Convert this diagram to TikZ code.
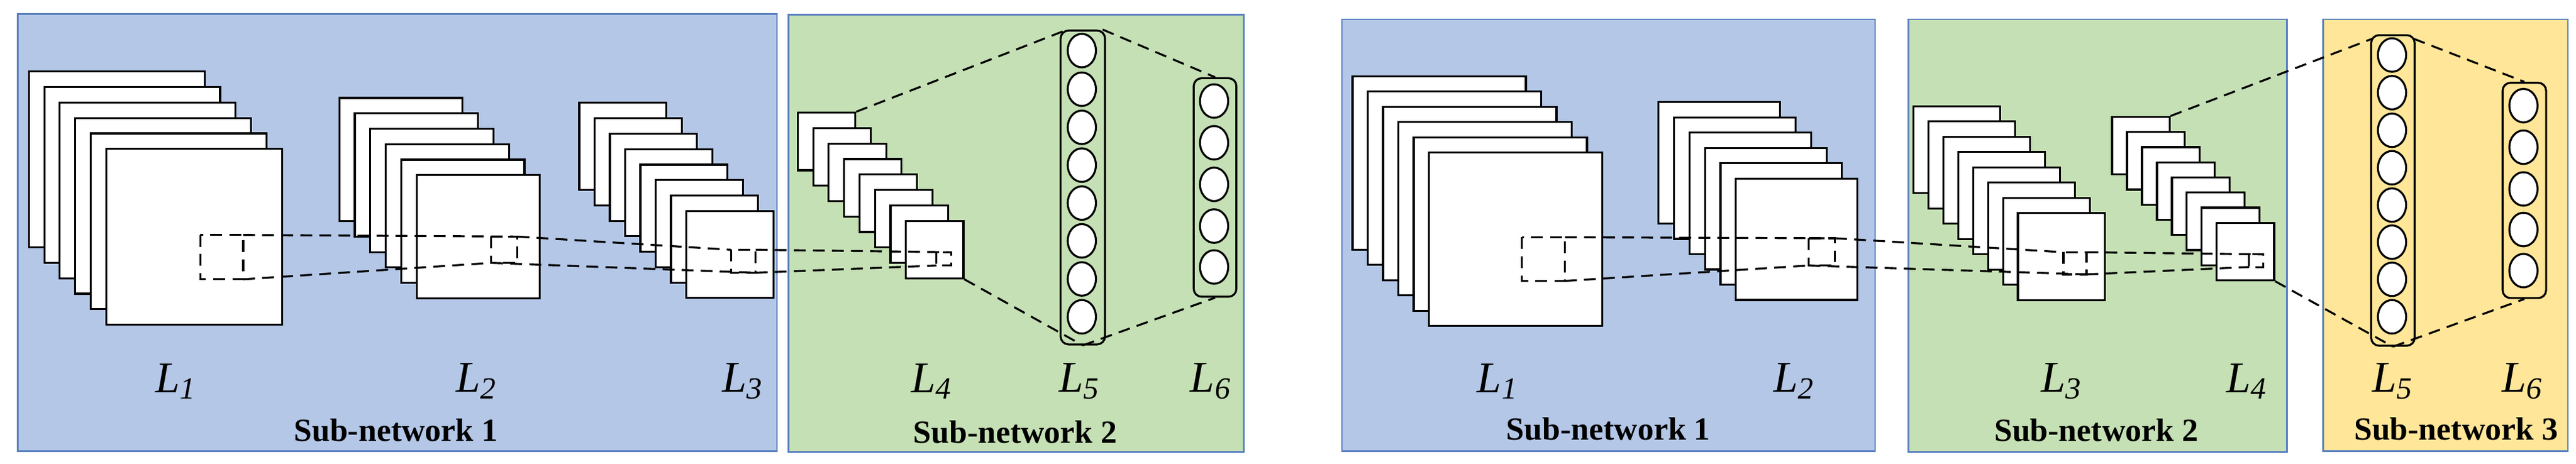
\documentclass[tikz,border=0pt]{standalone}
\usepackage{fontspec}
\setmainfont{Liberation Serif}
\usetikzlibrary{shapes.geometric}
\definecolor{pblue}{HTML}{B4C7E7}
\definecolor{pgreen}{HTML}{C5E0B4}
\definecolor{pyellow}{HTML}{FFE699}
\definecolor{pedge}{HTML}{5B82C0}
\tikzset{
  frame/.style={draw=black, fill=white, line width=0.3mm, rectangle, inner sep=0pt, anchor=north west},
  panel/.style={draw=pedge, line width=0.25mm},
  col/.style={draw=black, line width=0.3mm, rounded corners=1.2mm, rectangle, inner sep=0pt, anchor=north west},
  neuron/.style={draw=black, fill=white, line width=0.3mm, ellipse, inner sep=0pt, minimum width=4.3mm, minimum height=5.1mm},
  dsh/.style={line width=0.3mm, dash pattern=on 1.8mm off 1.1mm},
  lab/.style={font=\fontsize{19}{19}\selectfont\itshape},
  sub/.style={font=\fontsize{14}{14}\selectfont\bfseries}
}
\newcommand{\mystack}[7]{% name, x0, y0, size, n, dx, dy
  \foreach \i in {1,...,#5}{
    \node[frame, minimum size=#4*0.25mm] (#1-\i) at ({#2+(\i-1)*#6},{#3+(\i-1)*#7}) {};
  }}
\newcommand{\mylab}[3]{\node[lab] at (#1,#2) {L\textsubscript{#3}};}
\begin{document}
\begin{tikzpicture}[x=0.25mm,y=-0.25mm]
\useasboundingbox (0,0) rectangle (1568,282.4);
% panels
\draw[panel, fill=pblue] (10.7,8.5) rectangle (473,274.6);
\draw[panel, fill=pgreen] (480,9) rectangle (757,275);
\draw[panel, fill=pblue] (816.8,11.8) rectangle (1141.3,274.6);
\draw[panel, fill=pgreen] (1161.6,11.8) rectangle (1392,275);
\draw[panel, fill=pyellow] (1414,11.8) rectangle (1563,274.6);
% ===== left network =====
\mystack{a1}{17}{43}{107}{6}{9.4}{9.4}
\mystack{a2}{206}{59}{75}{6}{9.4}{9.4}
\mystack{a3}{352}{62}{53}{8}{9.3}{9.4}
\mystack{a4}{485}{68}{35}{8}{9.4}{9.4}
\node[col, minimum width=27*0.25mm, minimum height=191*0.25mm] (a5) at (645,18) {};
\foreach \y [count=\k] in {30.8,54.3,77.5,100.5,123.6,146.6,169.8,192.8}
  \node[neuron] (a5n\k) at (658.5,\y) {};
\node[col, minimum width=26*0.25mm, minimum height=133*0.25mm] (a6) at (726,47) {};
\foreach \y [count=\k] in {61.5,86.9,112.2,137.6,162.5}
  \node[neuron] (a6n\k) at (739,\y) {};
% receptive fields
\coordinate (ar1a) at (122,143); \coordinate (ar1b) at (148,170);
\coordinate (ar1c) at (148,143); \coordinate (ar1d) at (122,170);
\draw[dsh] (ar1a) rectangle (ar1b);
\coordinate (ar2a) at (299,144); \coordinate (ar2b) at (315,160);
\coordinate (ar2c) at (315,144); \coordinate (ar2d) at (299,160);
\draw[dsh] (ar2a) rectangle (ar2b);
\coordinate (ar3a) at (445,152); \coordinate (ar3b) at (460,166);
\coordinate (ar3c) at (460,152); \coordinate (ar3d) at (445,166);
\draw[dsh] (ar3a) rectangle (ar3b);
\coordinate (ar4a) at (570,153.5); \coordinate (ar4b) at (579,161.6);
\coordinate (ar4c) at (579,153.5); \coordinate (ar4d) at (570,161.6);
\draw[dsh] (ar4a) rectangle (ar4b);
\draw[dsh] (ar1c) -- (ar2c); \draw[dsh] (ar1b) -- (ar2d);
\draw[dsh] (ar2c) -- (ar3a); \draw[dsh] (ar2d) -- (ar3b);
\draw[dsh] (ar3c) -- (ar4c); \draw[dsh] (ar3b) -- (ar4d);
\draw[dsh] (a4-1.north east) -- ([xshift=1.2mm]a5.north west);
\draw[dsh] (a4-8.south east) -- (a5.south);
\draw[dsh] ([xshift=-0.5mm]a5.north east) -- (a6.north);
\draw[dsh] (a5.south) -- (a6.south);
\mylab{107}{232}{1} \mylab{290}{232}{2} \mylab{452}{232}{3}
\mylab{567}{232}{4} \mylab{657}{232}{5} \mylab{737}{232}{6}
\node[sub] at (241,262) {Sub-network 1};
\node[sub] at (618,263) {Sub-network 2};
% ===== right network =====
\mystack{b1}{822.7}{45.8}{105.5}{6}{9.3}{9.3}
\mystack{b2}{1009}{61.5}{74}{6}{9.4}{9.3}
\mystack{b3}{1164}{64}{53}{8}{9.1}{9.3}
\mystack{b4}{1285}{70.6}{35}{8}{9.1}{9.2}
\node[col, minimum width=26.5*0.25mm, minimum height=189*0.25mm] (b5) at (1442.7,20.8) {};
\foreach \y [count=\k] in {33.5,56.4,79.3,102.1,124.8,147.4,170,192.8}
  \node[neuron] (b5n\k) at (1456,\y) {};
\node[col, minimum width=26.5*0.25mm, minimum height=131*0.25mm] (b6) at (1522.7,49.8) {};
\foreach \y [count=\k] in {64.3,89.6,115,139.7,164.7}
  \node[neuron] (b6n\k) at (1536,\y) {};
\coordinate (br1a) at (926.4,144.4); \coordinate (br1b) at (952.6,171);
\coordinate (br1c) at (952.6,144.4); \coordinate (br1d) at (926.4,171);
\draw[dsh] (br1a) rectangle (br1b);
\coordinate (br2a) at (1100.8,145); \coordinate (br2b) at (1117,161.6);
\coordinate (br2c) at (1117,145); \coordinate (br2d) at (1100.8,161.6);
\draw[dsh] (br2a) rectangle (br2b);
\coordinate (br3a) at (1256,153.5); \coordinate (br3b) at (1270,167);
\coordinate (br3c) at (1270,153.5); \coordinate (br3d) at (1256,167);
\draw[dsh] (br3a) rectangle (br3b);
\coordinate (br4a) at (1369,154.8); \coordinate (br4b) at (1377.5,162.5);
\coordinate (br4c) at (1377.5,154.8); \coordinate (br4d) at (1369,162.5);
\draw[dsh] (br4a) rectangle (br4b);
\draw[dsh] (br1c) -- (br2c); \draw[dsh] (br1b) -- (br2d);
\draw[dsh] (br2c) -- (br3a); \draw[dsh] (br2d) -- (br3b);
\draw[dsh] (br3c) -- (br4c); \draw[dsh] (br3b) -- (br4d);
\draw[dsh] (b4-1.north east) -- ([xshift=0.3mm,yshift=-0.7mm]b5.north west);
\draw[dsh] (b4-8.south east) -- (b5.south);
\draw[dsh] ([xshift=-0.3mm,yshift=-0.7mm]b5.north east) -- (b6.north);
\draw[dsh] (b5.south) -- (b6.south);
\mylab{911.6}{232}{1} \mylab{1092}{232}{2} \mylab{1255}{232}{3}
\mylab{1367.6}{232}{4} \mylab{1456.5}{232}{5} \mylab{1535.5}{232}{6}
\node[sub] at (979,261) {Sub-network 1};
\node[sub] at (1276,262) {Sub-network 2};
\node[sub] at (1495,261) {Sub-network 3};
\end{tikzpicture}
\end{document}
